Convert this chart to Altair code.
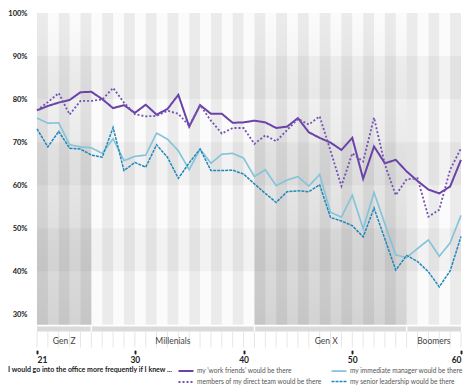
import altair as alt
import pandas as pd

# ---------------- data ----------------
ages = list(range(21, 61))

work_friends = [77.4, 78.4, 79.2, 79.8, 81.6, 81.7, 80.0, 77.9, 78.6, 76.8,
                78.7, 76.4, 77.7, 81.0, 73.6, 78.6, 76.6, 76.6, 74.5, 74.6,
                75.0, 74.6, 73.3, 73.6, 75.6, 72.3, 71.0, 69.9, 68.2, 71.0,
                61.5, 69.0, 65.1, 65.9, 63.2, 61.0, 59.0, 58.1, 59.7, 65.9]

direct_team = [77.4, 79.3, 81.4, 76.4, 79.6, 79.6, 79.9, 82.6, 79.2, 76.5,
               76.0, 76.1, 77.3, 76.6, 73.8, 78.6, 75.0, 72.0, 73.3, 73.3,
               69.6, 71.6, 70.2, 72.8, 75.4, 74.1, 76.0, 68.0, 59.8, 67.4,
               65.5, 75.7, 64.8, 57.7, 61.4, 61.6, 52.7, 54.3, 63.6, 68.6]

manager = [75.6, 74.4, 74.5, 69.4, 68.9, 68.7, 67.4, 70.8, 65.7, 66.7,
           67.0, 72.1, 70.7, 68.0, 63.6, 68.4, 65.1, 67.2, 67.4, 66.3,
           62.0, 63.6, 59.9, 61.2, 62.0, 59.8, 62.5, 53.7, 52.6, 57.7,
           49.9, 58.3, 51.0, 43.8, 43.2, 45.3, 47.3, 43.5, 46.6, 53.0]

senior = [73.1, 68.9, 72.5, 68.6, 68.4, 67.0, 66.5, 73.4, 63.4, 65.3,
          64.2, 69.4, 66.5, 61.6, 65.2, 68.4, 63.4, 63.4, 63.5, 62.6,
          60.3, 58.1, 56.0, 58.5, 58.7, 58.5, 60.1, 52.5, 51.7, 50.6,
          48.0, 54.7, 47.5, 40.3, 43.7, 42.3, 39.9, 36.4, 40.1, 48.1]

series_names = ["my 'work friends' would be there",
                "members of my direct team would be there",
                "my immediate manager would be there",
                "my senior leadership would be there"]
series_values = [work_friends, direct_team, manager, senior]
series_colors = ["#6a42a8", "#7652b2", "#84c4da", "#1f88bb"]
series_dash = [[1, 0], [2, 2], [1, 0], [3, 1]]
series_width = [2, 1.5, 2, 2]

generations = ["Gen Z", "Millenials", "Gen X", "Boomers"]
gen_start = [21, 26, 41, 55]
gen_end = [26, 41, 55, 60]
gen_label_x = [23.5, 33.5, 47.6, 57.5]
shaded_gens = ["Gen Z", "Gen X"]

x_ticks = [21, 30, 40, 50, 60]
y_ticks = [30, 40, 50, 60, 70, 80, 90, 100]
band_lows = [80, 60, 40]

legend_title = "I would go into the office more frequently if I knew ..."

FONT = "Lato"
Y_MIN, Y_MAX = 21.5, 100
PLOT_BOTTOM = 27.6
BAR_LO, BAR_HI = 26.0, 27.2
LINE_LO = 22.3
LABEL_Y = 23.8

# ---------------- tables ----------------
lines_df = pd.DataFrame([
    {"age": a, "value": v, "series": s}
    for s, vals in zip(series_names, series_values)
    for a, v in zip(ages, vals)
])

stripes = pd.DataFrame({"x0": ages[:-1], "x1": ages[1:]})
stripes["odd"] = [(a - 21) % 2 == 0 for a in ages[:-1]]
stripes["y0"] = PLOT_BOTTOM
stripes["y1"] = Y_MAX
dark_stripes = stripes[stripes["odd"]]
light_stripes = stripes[~stripes["odd"]]

bands = pd.DataFrame({"lo": band_lows, "hi": [b + 10 for b in band_lows]})

gen_df = pd.DataFrame({"gen": generations, "start": gen_start, "end": gen_end,
                       "lx": gen_label_x})
gen_df["bs"] = [s + (0 if s == ages[0] else 0.06) for s in gen_start]
gen_df["be"] = [e - (0 if e == ages[-1] else 0.06) for e in gen_end]
gen_df["ylo"] = PLOT_BOTTOM
gen_df["yhi"] = Y_MAX
gen_df["barlo"] = BAR_LO
gen_df["barhi"] = BAR_HI
gen_df["labely"] = LABEL_Y
shade_df = gen_df[gen_df["gen"].isin(shaded_gens)]

tick_lines = pd.DataFrame({"age": ages, "lo": LINE_LO, "hi": BAR_LO})

xs = alt.Scale(domain=[ages[0], ages[-1]], nice=False, zero=False, padding=0)
ys = alt.Scale(domain=[Y_MIN, Y_MAX], nice=False, zero=False, padding=0)

x_axis = alt.Axis(values=x_ticks, domain=False, grid=False, tickSize=2, tickWidth=2,
                  tickColor="#222", tickCap="round", labelFontWeight="bold",
                  labelFontSize=8.5, labelColor="#222", labelPadding=2, title=None,
                  labelFont=FONT)
y_axis = alt.Axis(values=y_ticks, labelExpr="datum.value + '%'", domain=False,
                  ticks=False, grid=False, labelFontWeight="bold", labelFontSize=7.5,
                  labelColor="#222", labelPadding=10, title=None, labelFont=FONT)

# ---------------- layers ----------------
light_layer = alt.Chart(light_stripes).mark_rect(color="#fbfbfb").encode(
    x=alt.X("x0:Q", scale=xs, axis=x_axis), x2="x1:Q",
    y=alt.Y("y0:Q", scale=ys, axis=y_axis), y2="y1:Q")

dark_layer = alt.Chart(dark_stripes).mark_rect(color="#ebebeb").encode(
    x="x0:Q", x2="x1:Q", y="y0:Q", y2="y1:Q")

band_layer = alt.Chart(bands).mark_rect(color="#000000", opacity=0.035).encode(
    x=alt.datum(ages[0]), x2=alt.datum(ages[-1]), y="lo:Q", y2="hi:Q")

grad = alt.LinearGradient(
    gradient="linear",
    stops=[alt.GradientStop(offset=0, color="rgba(0,0,0,0)"),
           alt.GradientStop(offset=1, color="rgba(0,0,0,0.16)")],
    x1=0, x2=0, y1=0, y2=1)
shade_layer = alt.Chart(shade_df).mark_rect(color=grad).encode(
    x="start:Q", x2="end:Q", y="ylo:Q", y2="yhi:Q")

bar_layer = alt.Chart(gen_df).mark_rect(color="#dadada").encode(
    x="bs:Q", x2="be:Q", y="barlo:Q", y2="barhi:Q")

tick_layer = alt.Chart(tick_lines).mark_rule(color="#e6e6e6", strokeWidth=1).encode(
    x="age:Q", y="lo:Q", y2="hi:Q")

gen_text = alt.Chart(gen_df).mark_text(fontSize=8.5, color="#444", font=FONT).encode(
    x="lx:Q", y="labely:Q", text="gen:N")

legend = alt.Legend(orient="none", legendX=-29, legendY=353, columns=2,
                    title=legend_title, titleOrient="left", titleFontWeight="bold",
                    titleFontSize=7, titleColor="#222", titleLimit=400,
                    titlePadding=8, titleFont=FONT, titleBaseline="top",
                    titleAnchor="start",
                    labelFont=FONT, labelFontSize=6.6, labelColor="#555",
                    labelLimit=400, labelOffset=6,
                    symbolType="M-2,0L2,0", symbolSize=56.25, symbolStrokeWidth=2,
                    columnPadding=6, rowPadding=2, padding=0)

line_layer = alt.Chart(lines_df).mark_line().encode(
    x="age:Q", y="value:Q",
    color=alt.Color("series:N", scale=alt.Scale(domain=series_names, range=series_colors),
                    legend=legend),
    strokeDash=alt.StrokeDash("series:N",
                              scale=alt.Scale(domain=series_names, range=series_dash),
                              legend=legend),
    strokeWidth=alt.StrokeWidth("series:N",
                                scale=alt.Scale(domain=series_names, range=series_width),
                                legend=None),
    detail="series:N",
)

chart = alt.layer(light_layer, dark_layer, band_layer, shade_layer, bar_layer,
                  tick_layer, gen_text, line_layer).properties(
    width=424, height=338,
    autosize=alt.AutoSizeParams(type="none"),
    padding={"left": 29, "top": 5, "right": 5, "bottom": 36},
).configure_view(stroke=None)

chart.save("out.html", embed_options={"renderer": "svg", "actions": False})
